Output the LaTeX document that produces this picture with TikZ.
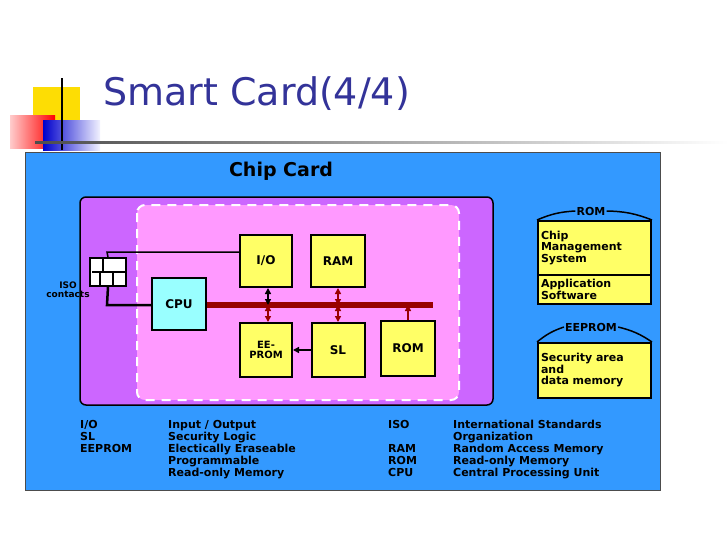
\documentclass[tikz,border=0pt]{standalone}
\usepackage{fontspec}
\setmainfont{DejaVu Sans}
\usetikzlibrary{arrows.meta}
\definecolor{ttl}{HTML}{333399}
\definecolor{panel}{HTML}{3399FF}
\definecolor{purp}{HTML}{CC66FF}
\definecolor{pinkk}{HTML}{FF99FF}
\definecolor{ylw}{HTML}{FFFF66}
\definecolor{cyn}{HTML}{99FFFF}
\definecolor{bus}{HTML}{990000}
\tikzset{
 x=1pt,y=-1pt,
 blk/.style={draw=black,line width=2pt,fill=ylw,font=\bfseries\fontsize{12}{12}\selectfont,align=center,inner sep=0},
 lg/.style={anchor=base west,yshift=-4pt,font=\bfseries\fontsize{11}{11}\selectfont,inner sep=0},
 tip/.style={line width=1.5pt,{Triangle[length=6pt,width=6pt]}-{Triangle[length=6pt,width=6pt]}},
 rbox/.style={draw,line width=2pt,fill=ylw,minimum width=113,text width=107,align=left,anchor=north west,font=\bfseries\fontsize{11}{11.5}\selectfont,inner sep=3},
}
\begin{document}
\begin{tikzpicture}
\useasboundingbox (0,0) rectangle (728,546);
\fill[white] (0,0) rectangle (728,546);
% decoration
\fill[yellow!80!orange] (33,87) rectangle (80,125);
\shade[left color=red!20,right color=red] (10,115) rectangle (55,148);
\shade[left color=blue!80!black,right color=blue!5] (43,120) rectangle (100,150);
\draw[black,line width=1.5pt] (62,78) -- (62,150);
\shade[left color=black!70,right color=white] (35,141) rectangle (728,143);
\node[anchor=base west,text=ttl,font=\fontsize{38}{38}\selectfont,inner sep=0] (title) at (103,105) {Smart Card(4/4)};
% panel
\draw[fill=panel,draw=black!70,line width=1pt] (25,152) rectangle (660,490);
\node[font=\bfseries\fontsize{19}{19}\selectfont] (cc) at (281,171) {Chip Card};
\draw[fill=purp,line width=1.5pt,rounded corners=6pt] (80,197) rectangle (493,405);
\draw[fill=pinkk,draw=white,line width=2pt,dash pattern=on 9pt off 7pt,rounded corners=8pt] (137,205) rectangle (459,400);
% bus
\draw[bus,line width=6pt] (206,305) -- (433,305);
\coordinate (b1) at (268,305); \coordinate (b2) at (338,305); \coordinate (b3) at (408,305);
% blocks
\node[blk,minimum width=52,minimum height=52] (io) at (266,261) {I/O};
\node[blk,minimum width=54,minimum height=52] (ram) at (338,261) {RAM};
\node[blk,fill=cyn,minimum width=54,minimum height=52] (cpu) at (179,304) {CPU};
\node[blk,minimum width=52,minimum height=54,font=\bfseries\fontsize{10}{10}\selectfont] (ee) at (266,350) {EE-\\PROM};
\node[blk,minimum width=53,minimum height=54] (sl) at (338,350) {SL};
\node[blk,minimum width=54,minimum height=55] (rom) at (408,348) {ROM};
% contacts
\node[draw=black,fill=white,line width=2pt,minimum width=36,minimum height=28,inner sep=0] (iso) at (108,272) {};
\draw[line width=2.5pt] (92,272) -- (125,272) (103,259) -- (103,272) (113,272) -- (113,285) (100,272)--(100,285);
\node[font=\bfseries\fontsize{9}{9}\selectfont,align=center,inner sep=0] (isol) at (68,290) {ISO\\contacts};
\draw[line width=1.5pt] (iso.north) -- (107,252) -- (io.west |- 0,252);
\draw[line width=2.5pt] (iso.south) -- (107,305) -- (cpu.west |- 0,305);
% arrows
\draw[tip] (io.south -| b1) -- (b1);
\draw[tip,bus] (b1) -- (ee.north -| b1);
\draw[tip,bus] (ram.south -| b2) -- (b2);
\draw[tip,bus] (b2) -- (sl.north -| b2);
\draw[bus,line width=1.5pt,-{Triangle[length=6pt,width=6pt]}] (rom.north -| b3) -- (b3);
\draw[line width=1.5pt,-{Triangle[length=6pt,width=6pt]}] (sl.west) -- (ee.east);
% right boxes
\node[font=\bfseries\fontsize{11}{11}\selectfont,inner sep=1] (rl) at (591,211) {ROM};
\node[rbox,minimum height=54] (cms) at (537,220) {Chip\\Management\\System};
\node[rbox,minimum height=29] (app) at (537,274) {Application\\Software};
\draw[line width=1.5pt] (cms.north west) to[bend left=10] (rl.west);
\draw[line width=1.5pt] (cms.north east) to[bend right=10] (rl.east);
\node[font=\bfseries\fontsize{11}{11}\selectfont,inner sep=1] (el) at (591,327) {EEPROM};
\node[rbox,minimum height=55] (sec) at (537,342) {Security area\\and\\data memory};
\draw[line width=1.5pt] (sec.north west) to[bend left=10] (el.west);
\draw[line width=1.5pt] (sec.north east) to[bend right=10] (el.east);
% legend
\node[lg] (l1) at (80,424) {I/O};
\node[lg] (l2) at (80,436) {SL};
\node[lg] (l3) at (80,448) {EEPROM};
\node[lg] (d1) at (168,424) {Input / Output};
\node[lg] (d2) at (168,436) {Security Logic};
\node[lg] (d3) at (168,448) {Electically Eraseable};
\node[lg] (d4) at (168,460) {Programmable};
\node[lg] (d5) at (168,472) {Read-only Memory};
\node[lg] (k1) at (388,424) {ISO};
\node[lg] (k3) at (388,448) {RAM};
\node[lg] (k4) at (388,460) {ROM};
\node[lg] (k5) at (388,472) {CPU};
\node[lg] (e1) at (453,424) {International Standards};
\node[lg] (e2) at (453,436) {Organization};
\node[lg] (e3) at (453,448) {Random Access Memory};
\node[lg] (e4) at (453,460) {Read-only Memory};
\node[lg] (e5) at (453,472) {Central Processing Unit};
\end{tikzpicture}
\end{document}
